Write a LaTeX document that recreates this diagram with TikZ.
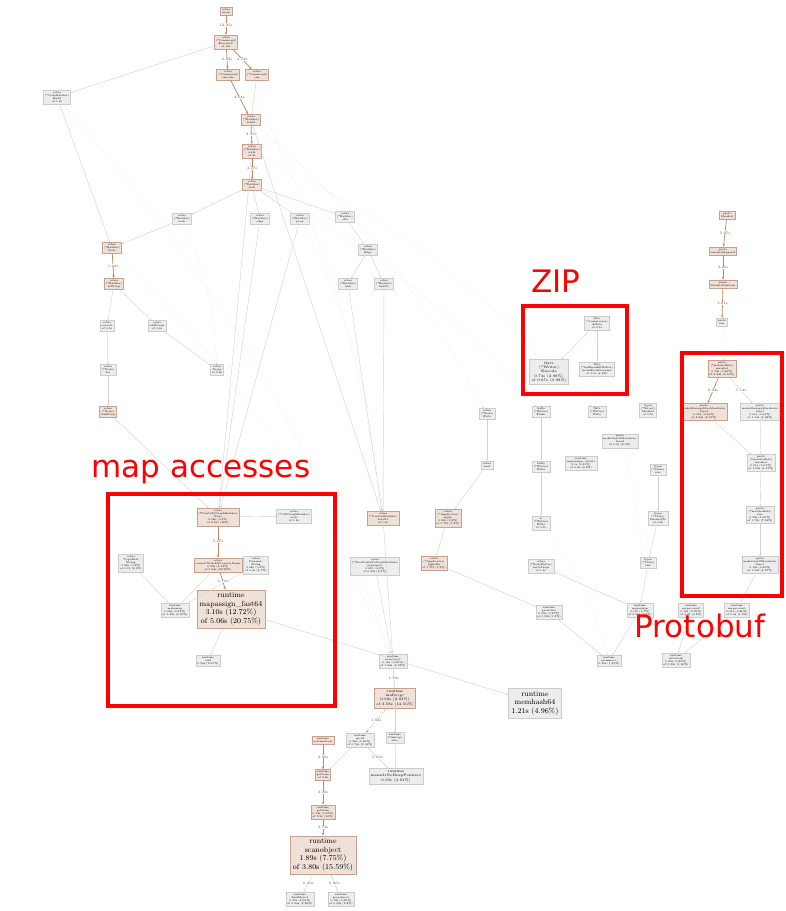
\documentclass[tikz,border=0pt]{standalone}
\usepackage{fontspec}
\newfontfamily\redfont{DejaVu Sans}
\usetikzlibrary{arrows.meta}
\definecolor{ofill}{HTML}{EFE1D8}
\definecolor{odraw}{HTML}{C9A08E}
\definecolor{oedge}{HTML}{C8865A}
\begin{document}
\begin{tikzpicture}[x=1pt,y=-1pt,
 o/.style={draw=odraw,fill=ofill,line width=0.4pt,align=center,inner sep=1.5pt,font=\fontsize{2.6}{3}\selectfont},
 g/.style={draw=black!20,fill=black!7,line width=0.4pt,align=center,inner sep=1.5pt,font=\fontsize{2.6}{3}\selectfont},
 big/.style={font=\fontsize{7.5}{8.5}\selectfont,inner sep=3pt},
 mid/.style={font=\fontsize{3.6}{4.3}\selectfont,inner sep=2pt},
 e/.style={draw=black!18,line width=0.4pt,-{Stealth[length=2pt]}},
 ed/.style={e,dotted},
 eo/.style={draw=oedge,line width=0.7pt,-{Stealth[length=3pt]}},
 lb/.style={font=\fontsize{3.5}{4}\selectfont,text=black!70,fill=white,inner sep=0.3pt},
 red/.style={draw=red,line width=4pt},
 rl/.style={text=red,font=\fontsize{31}{33}\redfont\selectfont}]
\useasboundingbox (0,0) rectangle (786,911);
\fill[white] (0,0) rectangle (786,911);
% top chain
\node[o] (t1) at (226,11) {cobra\\main};
\node[o] (t2) at (226,42) {cobra\\(*Command)\\ExecuteC\\of 16s};
\node[o] (t3) at (228,75) {cobra\\(*Command)\\execute};
\node[o] (t4) at (257,75) {cobra\\(*Command)\\run};
\node[g] (l1) at (57,97) {cobra\\(*CodeBuilder)\\Build\\of 1.2s};
\node[o] (t5) at (251,120) {cobra\\(*Builder)\\build};
\node[o] (t6) at (252,151) {cobra\\(*Builder)\\walk\\of 9s};
\node[o] (t7) at (252,185) {cobra\\(*Builder)\\visit};
\node[g] (r1) at (182,219) {cobra\\(*Builder)\\node};
\node[g] (r2) at (260,219) {cobra\\(*Builder)\\edge};
\node[g] (r3) at (300,219) {cobra\\(*Builder)\\prop};
\node[g] (r4) at (345,217) {cobra\\(*Builder)\\attr};
\node[o] (a1) at (112,248) {cobra\\(*Builder)\\Node};
\node[g] (a2) at (368,250) {cobra\\(*Builder)\\Edge};
\node[o] (a3) at (114,284) {cobra\\(*Builder)\\setProp};
\node[g] (a4) at (348,284) {cobra\\(*Builder)\\link};
\node[g] (a5) at (384,284) {cobra\\(*Builder)\\linkTo};
\node[g] (b1) at (157,326) {cobra\\addProps\\of 0.6s};
\node[g] (b2) at (107,326) {cobra\\convert\\of 0.3s};
\node[g] (b3) at (108,370) {cobra\\(*Node)\\Set};
\node[g] (b4) at (217,370) {cobra\\Props\\of 0.2s};
\node[o] (b5) at (108,412) {cobra\\(*Node)\\AddProp};
\node[o] (c1) at (727,215) {proto\\Marshal};
\node[o] (c2) at (723,251) {proto\\marshalAppend};
\node[o] (c3) at (723,284) {proto\\MarshalOptions};
\node[g] (c4) at (722,322) {proto\\size};
% ZIP box
\node[g] (z1) at (597,323) {flate\\(*compressor)\\deflate\\of 2.1s};
\node[g,mid] (z2) at (549,372) {flate\\(*Writer)\\Encode\\0.73s (2.99\%)\\of 0.97s (3.98\%)};
\node[g] (z3) at (597,369) {flate\\(*huffmanBitWriter)\\writeBlockDynamic\\of 1.1s (4.6\%)};
% protobuf box
\node[o] (p1) at (722,369) {proto\\(*marshalInfo)\\marshal\\0.12s (0.49\%)\\of 2.24s (9.19\%)};
\node[o] (p2) at (704,412) {proto\\makeMessageSliceMarshaler\\func3\\0.02s (0.08\%)\\of 2.24s (9.19\%)};
\node[g] (p3) at (760,412) {proto\\makeMessageMarshaler\\func1\\0.01s (0.04\%)\\of 1.14s (4.68\%)};
\node[g] (p4) at (761,463) {proto\\(*marshalInfo)\\marshal\\0.01s (0.04\%)\\of 1.09s (4.47\%)};
\node[g] (p5) at (760,515) {proto\\(*marshalInfo)\\size\\0.33s (1.35\%)\\of 1.79s (7.34\%)};
\node[g] (p6) at (760,565) {proto\\makeOneOfMarshaler\\func1\\0.12s (0.49\%)\\of 1.09s (4.47\%)};
% middle
\node[g] (m1) at (487,414) {cobra\\(*Node)\\Write};
\node[g] (m2) at (487,465) {cobra\\emit};
\node[g] (m3) at (541,412) {bufio\\(*Writer)\\Flush};
\node[g] (m4) at (541,467) {bufio\\(*Writer)\\Write};
\node[g] (m5) at (541,523) {io\\(*Writer)\\Write\\of 0.7s};
\node[g] (m6) at (597,412) {flate\\(*Writer)\\Write};
\node[g] (m7) at (620,441) {proto\\makeOneOfMarshaler\\func2\\of 0.7s (2.9\%)};
\node[g] (m8) at (648,410) {types\\(*Struct)\\Marshal\\of 0.7s};
\node[g] (m9) at (658,470) {types\\(*Value)\\size};
\node[g] (m10) at (658,518) {types\\(*Value)\\MarshalTo\\of 0.2s};
\node[g] (m11) at (648,563) {types\\(*Value)\\size};
\node[g] (m12) at (581,463) {runtime\\mapassign\_faststr\\0.1s (0.41\%)\\of 0.2s (0.8\%)};
\node[g] (m13) at (541,566) {cobra\\(*NodeWriter)\\writeProps\\of 1.1s};
\node[o] (ap) at (448,518) {cobra\\(*Applicator)\\apply\\0.22s (0.9\%)\\of 1.77s (7.3\%)};
\node[o] (ap2) at (434,563) {cobra\\(*Applicator)\\applyFn\\of 1.77s (7.3\%)};
% map accesses region
\node[o] (n1) at (218,517) {cobra\\(*PointsToGraphBuilder)\\Node\\0.08s (0.3\%)\\of 6.35s (26\%)};
\node[g] (n2) at (294,516) {cobra\\(*CallGraphBuilder)\\node\\of 1.2s};
\node[o] (cv) at (218,565) {cobra\\convertNodeIdPropertyName\\0.52s (2.13\%)\\of 5.58s (22.89\%)};
\node[g] (n3) at (256,565) {cobra\\Dynamic\\String\\0.08s (0.3\%)\\of 0.9s (3.7\%)};
\node[g] (n4) at (131,563) {cobra\\TypeRefs\\String\\0.08s (0.3\%)\\of 0.7s (2.9\%)};
\node[o,big] (mf) at (231,609) {runtime\\mapassign\_fast64\\3.10s (12.72\%)\\of 5.06s (20.75\%)};
\node[g] (n5) at (175,610) {runtime\\makemap\\0.08s (0.33\%)\\of 1.33s (5.45\%)};
\node[g] (n6) at (208,661) {runtime\\add\\0.50s (2.05\%)};
\node[o] (n7) at (383,518) {cobra\\(*ContextBuilder)\\setattr\\of 1.4s};
\node[g] (n8) at (375,566) {cobra\\(*TreePointsToGraphBuilder)\\propagate\\0.07s (0.3\%)\\of 0.95s (3.9\%)};
\node[g] (mo) at (393,661) {runtime\\newobject\\0.16s (0.66\%)\\of 1.52s (6.23\%)};
\node[o,mid] (mg) at (395,698) {runtime\\mallocgc\\0.69s (2.83\%)\\of 3.58s (14.56\%)};
\node[g,big] (mh) at (535,703) {runtime\\memhash64\\1.21s (4.96\%)};
\node[g] (q1) at (549,612) {runtime\\growslice\\0.09s (0.37\%)\\of 0.32s (1.3\%)};
\node[g] (q2) at (640,610) {runtime\\mapassign\\0.17s (0.7\%)\\of 0.55s (2.3\%)};
\node[g] (q3) at (691,610) {runtime\\mapaccess2\\0.19s (0.78\%)\\of 0.2s (0.8\%)};
\node[g] (q4) at (737,610) {runtime\\mapaccess1\\0.21s (0.86\%)\\of 0.4s (1.6\%)};
\node[g] (q5) at (609,661) {runtime\\memmove\\0.30s (1.23\%)};
\node[g] (q6) at (676,660) {runtime\\interhash\\0.20s (0.82\%)\\of 0.39s (1.60\%)};
% lower
\node[o] (w1) at (323,740) {runtime\\systemstack};
\node[g] (w2) at (360,740) {runtime\\mcall\\0.36s (1.48\%)\\of 0.74s (3.04\%)};
\node[g] (w3) at (395,738) {runtime\\(*mheap)\\alloc};
\node[o] (w4) at (323,775) {runtime\\gcDrain\\of 3.9s};
\node[g,mid] (w5) at (396,776) {runtime\\memclrNoHeapPointers\\0.93s (3.81\%)};
\node[o] (w6) at (323,812) {runtime\\gcDrain\\0.13s (0.53\%)\\of 3.9s (16\%)};
\node[o,big] (so) at (323,855) {runtime\\scanobject\\1.89s (7.75\%)\\of 3.80s (15.59\%)};
\node[g] (w7) at (300,899) {runtime\\findObject\\0.75s (3.08\%)\\of 0.94s (3.86\%)};
\node[g] (w8) at (341,899) {runtime\\greyobject\\0.12s (0.49\%)\\of 0.93s (3.8\%)};
% edges
\foreach \a/\b in {t2/l1,t3/t5,t4/t5,l1/a1,t7/r1,t7/r2,t7/r3,t7/r4,r1/a1,r4/a2,a1/a3,a2/a4,a2/a5,a3/b1,a3/b2,b2/b3,b3/b5,b5/n1,b1/b4,z1/z2,z1/z3,m1/m2,m2/ap,ap/ap2,m3/m4,m4/m5,m9/m10,m10/m11,n1/n2,n3/n5,n4/n5,cv/n5,mf/n6,n8/mo,mo/mg,q1/q5,q2/q5,q3/q6,q4/q6,p6/q4,mg/w3,w3/w5,w2/w4,mf/mh,n7/mo,r2/n1,r3/n1,t6/n1,a4/n7,a5/n7,t5/n7,p2/p4,p3/p4,p4/p5,p5/p6,ap2/q1,m13/q2,m11/q2,w8/so}
  \draw[e] (\a) -- (\b);
\foreach \a/\b in {t5/m1,t7/m3,t6/m6,m6/z1,l1/mo,a1/mo,t2/n7,c4/p1,m5/q5,m7/q2,r1/b4,r3/n7}
  \draw[ed] (\a) to[bend left=10] (\b);
\foreach \a/\b/\l in {t1/t2/12.95s,t2/t3/6.23s,t2/t4/3.74s,t3/t5/4.04s,t5/t6/3.59s,t6/t7/3.37s,n1/cv/5.47s,cv/mf/3.79s,c1/c2/5.27s,c2/c3/3.26s,c3/c4/3.01s,p1/p2/2.24s,w1/w4/3.99s,w4/w6/3.99s,w6/so/3.74s,a1/a3/1.24s}
  \draw[eo] (\a) -- node[lb]{\l} (\b);
\draw[eo,dotted] (mg) -- node[lb]{1.02s} (w2);
\draw[e] (so) -- node[lb]{0.90s} (w7);
\draw[e] (so) -- node[lb]{0.86s} (w8);
\draw[e] (p1) -- node[lb]{1.14s} (p3);
\draw[e] (mo) -- node[lb]{1.36s} (mg);
\draw[e] (w2) -- node[lb]{0.60s} (w5);
% red boxes
\draw[red] (523,306) rectangle (627,394);
\draw[red] (108,494) rectangle (335,706);
\draw[red] (682,353) rectangle (782,596);
\node[rl] at (556,281) {ZIP};
\node[rl] at (201,472) {map accesses};
\node[rl] at (700,626) {Protobuf};
\end{tikzpicture}
\end{document}
